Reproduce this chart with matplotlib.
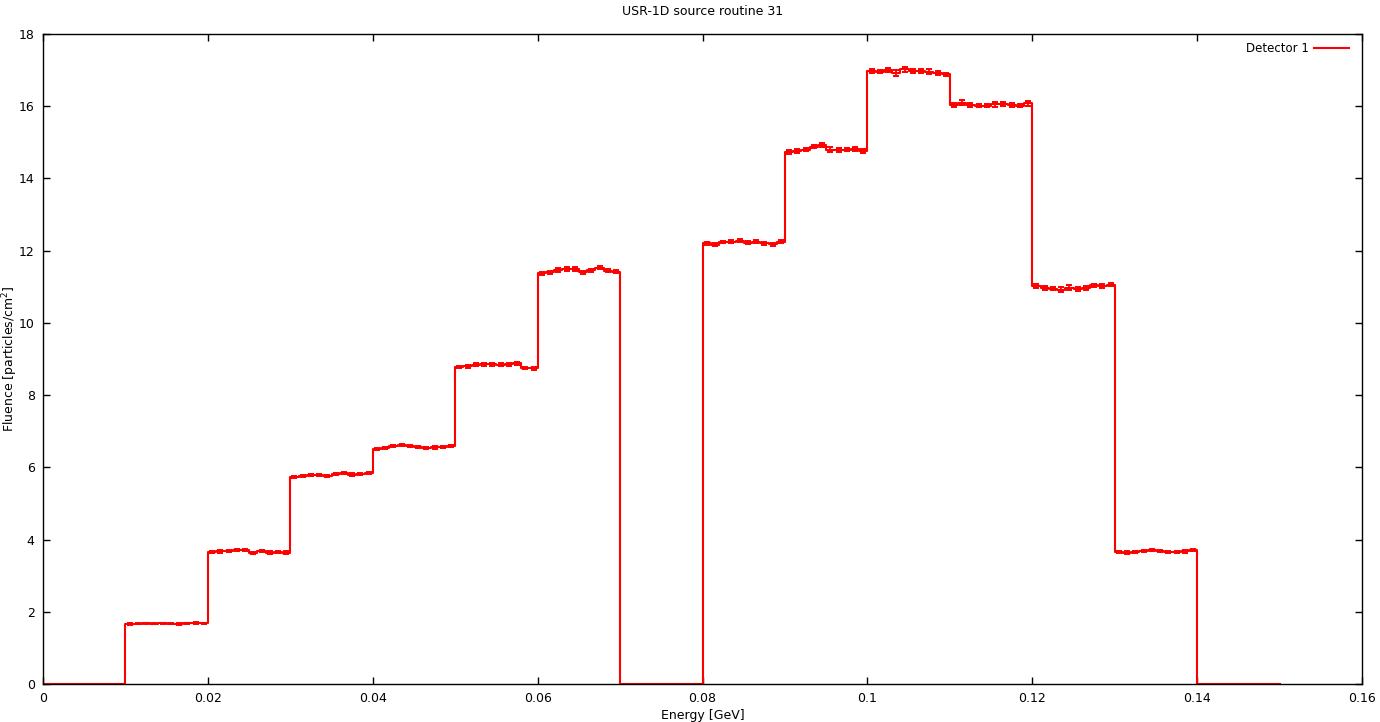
import numpy as np
import matplotlib.pyplot as plt

# USR-1D fluence per energy bin (bin width 0.001 GeV, 0 -> 0.15 GeV)
zeros = [0.0] * 10
seg_010 = [1.66, 1.67, 1.68, 1.67, 1.68, 1.67, 1.66, 1.68, 1.69, 1.68]
seg_020 = [3.66, 3.67, 3.68, 3.70, 3.72, 3.62, 3.68, 3.64, 3.65, 3.64]
seg_030 = [5.74, 5.77, 5.78, 5.79, 5.75, 5.82, 5.84, 5.80, 5.82, 5.84]
seg_040 = [6.50, 6.53, 6.58, 6.62, 6.58, 6.56, 6.54, 6.55, 6.57, 6.60]
seg_050 = [8.78, 8.80, 8.84, 8.85, 8.86, 8.84, 8.85, 8.88, 8.75, 8.74]
seg_060 = [11.38, 11.40, 11.46, 11.49, 11.50, 11.40, 11.46, 11.53, 11.45, 11.42]
seg_080 = [12.20, 12.16, 12.24, 12.25, 12.27, 12.22, 12.25, 12.20, 12.18, 12.25]
seg_090 = [14.74, 14.76, 14.80, 14.88, 14.92, 14.80, 14.78, 14.80, 14.82, 14.76]
seg_100 = [16.98, 16.96, 17.00, 16.92, 17.02, 16.98, 16.97, 16.96, 16.92, 16.88]
seg_110 = [16.04, 16.10, 16.04, 16.02, 16.02, 16.05, 16.06, 16.04, 16.02, 16.08]
seg_120 = [11.02, 10.96, 10.95, 10.92, 10.98, 10.94, 10.96, 11.04, 11.02, 11.06]
seg_130 = [3.66, 3.64, 3.66, 3.68, 3.70, 3.68, 3.66, 3.66, 3.67, 3.70]

# statistical errors
err_010 = [0.02, 0.02, 0.02, 0.02, 0.02, 0.02, 0.02, 0.02, 0.02, 0.02]
err_020 = [0.03, 0.03, 0.03, 0.03, 0.03, 0.03, 0.03, 0.03, 0.03, 0.03]
err_030 = [0.03, 0.03, 0.03, 0.03, 0.03, 0.03, 0.03, 0.03, 0.03, 0.03]
err_040 = [0.03, 0.03, 0.03, 0.03, 0.03, 0.03, 0.03, 0.03, 0.03, 0.03]
err_050 = [0.04, 0.04, 0.04, 0.04, 0.04, 0.04, 0.04, 0.04, 0.04, 0.05]
err_060 = [0.04, 0.04, 0.05, 0.05, 0.05, 0.05, 0.04, 0.05, 0.04, 0.04]
err_080 = [0.04, 0.04, 0.04, 0.04, 0.04, 0.04, 0.04, 0.04, 0.04, 0.05]
err_090 = [0.05, 0.05, 0.05, 0.05, 0.05, 0.06, 0.05, 0.05, 0.05, 0.05]
err_100 = [0.05, 0.05, 0.05, 0.08, 0.06, 0.05, 0.05, 0.07, 0.05, 0.05]
err_110 = [0.05, 0.07, 0.05, 0.05, 0.05, 0.07, 0.05, 0.05, 0.05, 0.06]
err_120 = [0.05, 0.05, 0.05, 0.07, 0.06, 0.05, 0.05, 0.05, 0.06, 0.05]
err_130 = [0.03, 0.03, 0.03, 0.03, 0.03, 0.03, 0.03, 0.03, 0.03, 0.03]

fluence = np.array(zeros + seg_010 + seg_020 + seg_030 + seg_040 + seg_050 + seg_060
                   + zeros + seg_080 + seg_090 + seg_100 + seg_110 + seg_120 + seg_130 + zeros)
errors = np.array(zeros + err_010 + err_020 + err_030 + err_040 + err_050 + err_060
                  + zeros + err_080 + err_090 + err_100 + err_110 + err_120 + err_130 + zeros)

edges = np.linspace(0.0, 0.15, len(fluence) + 1)
centers = 0.5 * (edges[:-1] + edges[1:])

fig = plt.figure(figsize=(13.8, 7.22), dpi=100)
ax = fig.add_axes([0.0312, 0.0526, 0.9558, 0.9003])

red = '#ff0000'
ax.step(edges, np.append(fluence, fluence[-1]), where='post', color=red, lw=1.5,
        label='Detector 1')
ax.errorbar(centers, fluence, yerr=errors, fmt='none', ecolor=red, elinewidth=1.3,
            capsize=2.2, capthick=1.4)

ax.set_xlim(0, 0.16)
ax.set_ylim(0, 18)
ax.set_xticks(np.arange(0, 0.161, 0.02))
ax.set_xticklabels(['0', '0.02', '0.04', '0.06', '0.08', '0.1', '0.12', '0.14', '0.16'])
ax.set_yticks(np.arange(0, 19, 2))
ax.tick_params(direction='in', length=5, width=1, top=True, right=True,
               labelsize=9, pad=6)
for s in ax.spines.values():
    s.set_linewidth(1)

ax.set_xlabel('Energy [GeV]', fontsize=9)
ax.set_ylabel('Fluence [particles/cm$^2$]', fontsize=9)
ax.xaxis.set_label_coords(0.5, -0.039)
ax.yaxis.set_label_coords(-0.0175, 0.5)
ax.set_title('USR-1D source routine 31', fontsize=9, pad=14)

ax.legend(loc='upper right', bbox_to_anchor=(0.996, 1.0), frameon=False,
          markerfirst=False, fontsize=8.5, handlelength=2.9, handletextpad=0.5,
          borderaxespad=0.3)

fig.savefig('out.png', dpi=100)
